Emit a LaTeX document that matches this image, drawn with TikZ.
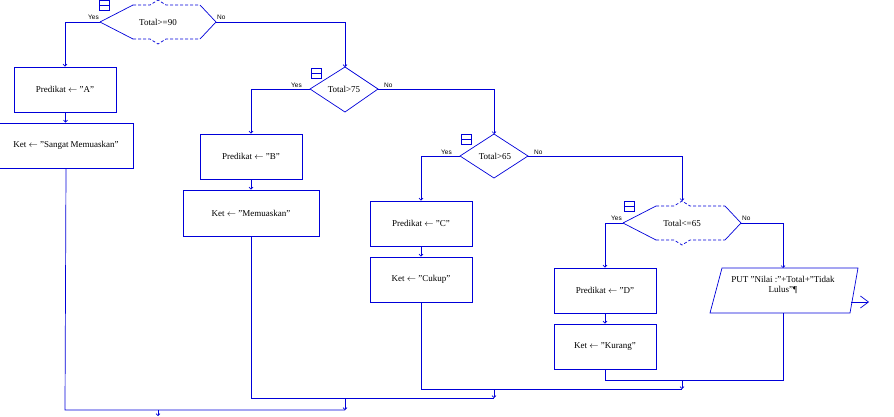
\documentclass[tikz,border=0pt]{standalone}
\usepackage{fontspec}
\setmainfont{Liberation Serif}
\newfontfamily\lblfont{Liberation Sans}
\usetikzlibrary{arrows.meta}
\begin{document}
\begin{tikzpicture}[x=1pt,y=-1pt,
  fc/.style={draw=blue!85!black,line width=0.7pt},
  box/.style={fc,rectangle,inner sep=0pt,font=\fontsize{9}{10}\selectfont,align=center},
  lbl/.style={font=\lblfont\fontsize{6.5}{7}\selectfont,inner sep=1pt},
  ln/.style={blue!85!black,line width=0.7pt},
  arr/.style={ln,-{Straight Barb[length=2pt,width=4pt]}},
  txt/.style={font=\fontsize{9}{10}\selectfont,inner sep=0pt}]
\useasboundingbox (0,0) rectangle (894,416);
\newcommand{\mkicon}[2]{\draw[ln] (#1,#2) rectangle ++(10,10); \draw[ln] (#1,#2+5) -- ++(10,0);}
\newcommand{\hexd}[3]{% cx, cy, halfwidth
  \draw[ln] (#1-#3,#2) -- (#1-#3+33,#2-17); \draw[ln] (#1-#3,#2) -- (#1-#3+33,#2+17);
  \draw[ln] (#1+#3,#2) -- (#1+#3-16,#2-17); \draw[ln] (#1+#3,#2) -- (#1+#3-16,#2+17);
  \draw[ln,densely dashed] (#1-#3+33,#2-17) -- (#1-8,#2-17) -- (#1,#2-22) -- (#1+8,#2-17) -- (#1+#3-16,#2-17);
  \draw[ln,densely dashed] (#1-#3+33,#2+17) -- (#1-8,#2+17) -- (#1,#2+22) -- (#1+8,#2+17) -- (#1+#3-16,#2+17);}
% decision 1
\hexd{158}{22}{58}
\node[txt] (d1) at (158,22) {Total>=90};
\coordinate (d1l) at (100,22); \coordinate (d1r) at (216,22);
\mkicon{99}{0}
\node[lbl,anchor=south east] (y1) at (100,21) {Yes};
\node[lbl,anchor=south west] (n1) at (216,21) {No};
\node[box,minimum width=102pt,minimum height=45pt] (a1) at (65,89.5) {Predikat $\leftarrow$ "A"};
\node[box,minimum width=134pt,minimum height=45pt] (a2) at (66,145.5) {Ket $\leftarrow$ "Sangat Memuaskan"};
\draw[arr] (d1l) -| (a1.north);
\draw[arr] (a1) -- (a2);
% decision 2
\draw[fc] (310,89) -- (345,67) -- (378,89) -- (345,112) -- cycle;
\node[txt] (d2) at (344,89) {Total>75};
\mkicon{311}{68}
\node[lbl,anchor=south east] (y2) at (303,89) {Yes};
\node[lbl,anchor=south west] (n2) at (383,89) {No};
\draw[arr] (d1r) -| (345,67);
\node[box,minimum width=102pt,minimum height=45pt] (b1) at (251,156.5) {Predikat $\leftarrow$ "B"};
\node[box,minimum width=136pt,minimum height=46pt] (b2) at (251,213) {Ket $\leftarrow$ "Memuaskan"};
\draw[arr] (310,89) -| (b1.north);
\draw[arr] (b1) -- (b2);
% decision 3
\draw[fc] (460,156) -- (494,134) -- (528,156) -- (494,178) -- cycle;
\node[txt] (d3) at (495,156) {Total>65};
\mkicon{461}{134}
\node[lbl,anchor=south east] (y3) at (453,156) {Yes};
\node[lbl,anchor=south west] (n3) at (533,156) {No};
\draw[arr] (378,89) -| (494,134);
\node[box,minimum width=102pt,minimum height=45pt] (c1) at (421,223.5) {Predikat $\leftarrow$ "C"};
\node[box,minimum width=102pt,minimum height=45pt] (c2) at (421,279.5) {Ket $\leftarrow$ "Cukup"};
\draw[arr] (460,156) -| (c1.north);
\draw[arr] (c1) -- (c2);
% decision 4
\hexd{682}{223}{59}
\node[txt] (d4) at (682,223) {Total<=65};
\coordinate (d4l) at (623,223); \coordinate (d4r) at (741,223);
\mkicon{624}{201}
\node[lbl,anchor=south east] (y4) at (623,222) {Yes};
\node[lbl,anchor=south west] (n4) at (741,222) {No};
\draw[arr] (528,156) -| (682,201);
\node[box,minimum width=102pt,minimum height=45pt] (e1) at (605,290.5) {Predikat $\leftarrow$ "D"};
\node[box,minimum width=102pt,minimum height=45pt] (e2) at (605,346.5) {Ket $\leftarrow$ "Kurang"};
\draw[arr] (d4l) -| (e1.north);
\draw[arr] (e1) -- (e2);
\draw[fc] (710,313) -- (722,268) -- (858,268) -- (850,313) -- cycle;
\node[txt,align=center] (p) at (783,285) {PUT "Nilai :"+Total+"Tidak\\Lulus"¶};
\coordinate (ptop) at (783,268);
\coordinate (pout) at (869,302);
\draw[arr] (d4r) -| (ptop);
\draw[ln,-{Straight Barb[length=8pt,width=12pt]}] (851,302) -- (pout);
% merges
\draw[ln] (e2.south) -- (605,380) -- (783,380) -- (783,313);
\draw[arr] (682,380) -- (682,389);
\draw[ln] (c2.south) -- (421,389) -- (682,389);
\draw[arr] (494,389) -- (494,398);
\draw[ln] (b2.south) -- (251,398) -- (494,398);
\draw[arr] (345,398) -- (345,410);
\draw[ln] (a2.south) -- (65,410) -- (345,410);
\draw[arr] (158,410) -- (158,416);
\end{tikzpicture}
\end{document}
